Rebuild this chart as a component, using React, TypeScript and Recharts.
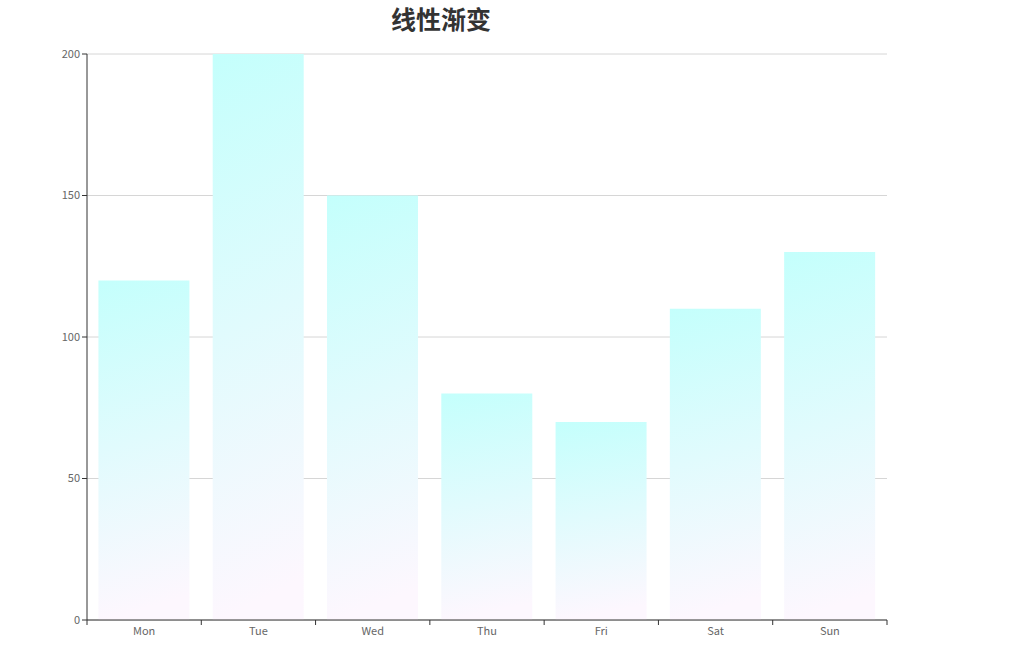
import React from "react";
import { BarChart, Bar, XAxis, YAxis, CartesianGrid } from "recharts";

const categories = ["Mon", "Tue", "Wed", "Thu", "Fri", "Sat", "Sun"];
const values = [120, 200, 150, 80, 70, 110, 130];
const yTicks = [0, 50, 100, 150, 200];
const boundaryTicks = [0, 1, 2, 3, 4, 5, 6, 7];

const data = categories.map((c, i) => ({ name: c, value: values[i], pos: i + 0.5 }));

const EmptyTick = () => <g />;

export default function App() {
  return (
    <div style={{ position: "absolute", left: 0, top: 0, width: 1017, height: 670, background: "#fff" }}>
      <div
        style={{
          position: "absolute",
          left: 341,
          width: 200,
          top: 1,
          textAlign: "center",
          fontFamily: "'Noto Sans CJK SC', sans-serif",
          fontWeight: "bold",
          fontSize: 25,
          color: "#333",
          lineHeight: "34px",
        }}
      >
        线性渐变
      </div>
      <BarChart
        width={1017}
        height={670}
        data={data}
        margin={{ top: 54, right: 130, left: 27, bottom: 20 }}
        barCategoryGap="10%"
      >
        <defs>
          <linearGradient id="barGrad" x1="0" y1="0" x2="0.08" y2="1">
            <stop offset="0%" stopColor="#c4fffc" />
            <stop offset="100%" stopColor="#fdf7fe" />
          </linearGradient>
        </defs>
        <CartesianGrid vertical={false} stroke="#d6d6d6" />
        <XAxis
          xAxisId="bound"
          type="number"
          dataKey="pos"
          domain={[0, 7]}
          ticks={boundaryTicks}
          height={1}
          tick={<EmptyTick />}
          tickSize={5}
          axisLine={{ stroke: "#333" }}
          tickLine={{ stroke: "#333" }}
        />
        <XAxis
          dataKey="name"
          xAxisId="cat"
          height={29}
          axisLine={false}
          tickLine={false}
          tick={{ fill: "#666", fontSize: 11, fontFamily: "'Noto Sans CJK SC', sans-serif" }}
          tickMargin={0}
        />
        <YAxis
          width={60}
          domain={[0, 200]}
          ticks={yTicks}
          axisLine={{ stroke: "#333" }}
          tickLine={{ stroke: "#333" }}
          tickSize={5}
          tickMargin={2}
          tick={{ fill: "#666", fontSize: 11, fontFamily: "'Noto Sans CJK SC', sans-serif" }}
        />
        <Bar dataKey="value" xAxisId="cat" fill="url(#barGrad)" isAnimationActive={false} />
      </BarChart>
    </div>
  );
}
